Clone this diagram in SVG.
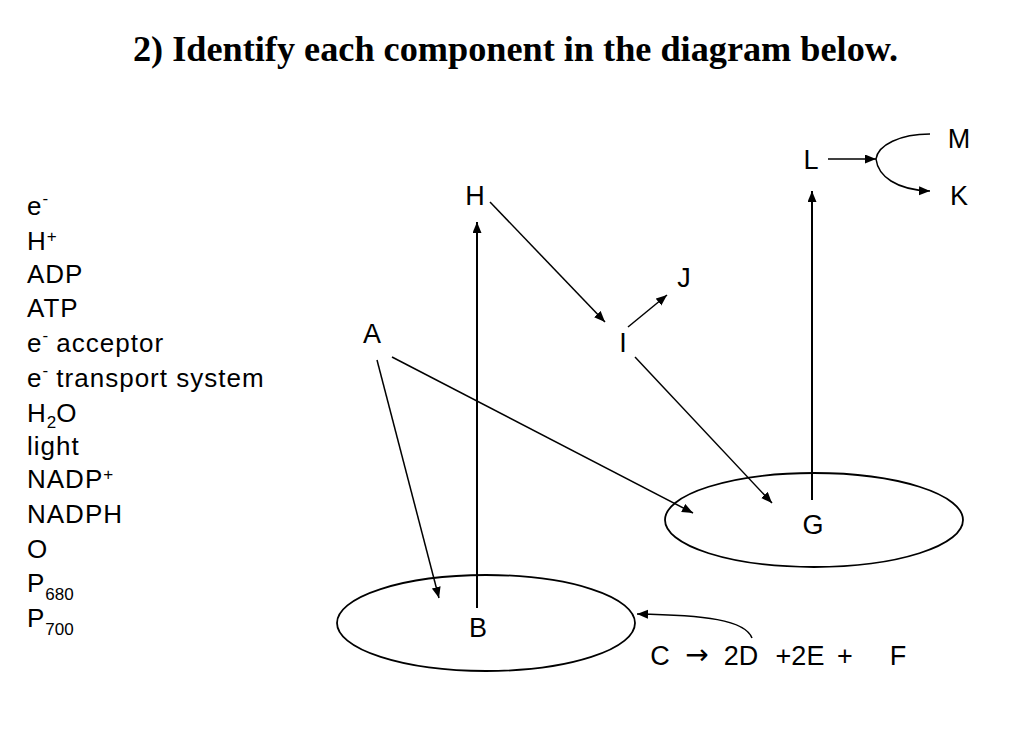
<svg xmlns="http://www.w3.org/2000/svg" width="1024" height="733" viewBox="0 0 1024 733">
<defs>
<marker id="ah" markerWidth="12" markerHeight="10" refX="11" refY="4.5" orient="auto" markerUnits="userSpaceOnUse">
<path d="M0,0 L11,4.5 L0,9 Z" fill="#000"/>
</marker>
<style>
.t{font-family:"Liberation Sans",Arial,sans-serif;font-size:26px;fill:#000;letter-spacing:1px}
.lb{font-family:"Liberation Sans",Arial,sans-serif;font-size:27px;fill:#000}
.ar{font-family:"DejaVu Sans",sans-serif;font-size:28px;fill:#000}
.sub{font-size:17px;letter-spacing:0}
.ttl{font-family:"Liberation Serif","Times New Roman",serif;font-weight:bold;font-size:36px;fill:#000}
.ln{fill:none;stroke:#000;stroke-width:1.5}
.v{fill:none;stroke:#000;stroke-width:2}
.el{fill:none;stroke:#000;stroke-width:1.8}
</style>
</defs>
<rect width="1024" height="733" fill="#fff"/>
<text class="ttl" x="133" y="61" textLength="765" lengthAdjust="spacingAndGlyphs">2) Identify each component in the diagram below.</text>

<g id="list">
<text class="t" x="27" y="215">e<tspan class="sub" dy="-11">-</tspan></text>
<text class="t" x="27" y="250">H<tspan class="sub" dy="-8">+</tspan></text>
<text class="t" x="27" y="283">ADP</text>
<text class="t" x="27" y="317">ATP</text>
<text class="t" x="27" y="352">e<tspan class="sub" dy="-11">-</tspan><tspan dy="11"> acceptor</tspan></text>
<text class="t" x="27" y="387">e<tspan class="sub" dy="-11">-</tspan><tspan dy="11"> transport system</tspan></text>
<text class="t" x="27" y="422">H<tspan class="sub" dy="6">2</tspan><tspan dy="-6">O</tspan></text>
<text class="t" x="27" y="455">light</text>
<text class="t" x="27" y="488">NADP<tspan class="sub" dy="-8">+</tspan></text>
<text class="t" x="27" y="523">NADPH</text>
<text class="t" x="27" y="558">O</text>
<text class="t" x="27" y="592">P<tspan class="sub" dy="8">680</tspan></text>
<text class="t" x="27" y="627">P<tspan class="sub" dy="8">700</tspan></text>
</g>

<g id="ellipseB"><ellipse class="el" cx="486" cy="623" rx="149" ry="48"/></g>
<g id="ellipseG"><ellipse class="el" cx="814" cy="520" rx="149" ry="47"/></g>

<g id="nodeA"><text class="lb" x="372" y="343" text-anchor="middle">A</text></g>
<g id="nodeB"><text class="lb" x="478" y="637" text-anchor="middle">B</text></g>
<g id="nodeG"><text class="lb" x="813" y="534" text-anchor="middle">G</text></g>
<g id="nodeH"><text class="lb" x="475" y="205" text-anchor="middle">H</text></g>
<g id="nodeI"><text class="lb" x="623" y="352" text-anchor="middle">I</text></g>
<g id="nodeJ"><text class="lb" x="684" y="287" text-anchor="middle">J</text></g>
<g id="nodeL"><text class="lb" x="811" y="169" text-anchor="middle">L</text></g>
<g id="nodeM"><text class="lb" x="959" y="148" text-anchor="middle">M</text></g>
<g id="nodeK"><text class="lb" x="959" y="205" text-anchor="middle">K</text></g>
<g id="equation">
<text class="lb" x="660" y="665" text-anchor="middle">C</text>
<text class="ar" x="697" y="664" text-anchor="middle">→</text>
<text class="lb" x="741" y="665" text-anchor="middle">2D</text>
<text class="lb" x="800" y="665" text-anchor="middle">+2E</text>
<text class="lb" x="845" y="665" text-anchor="middle">+</text>
<text class="lb" x="898" y="665" text-anchor="middle">F</text>
</g>

<g id="connectors">
<line class="v" x1="477" y1="608" x2="477" y2="222" marker-end="url(#ah)"/>
<line class="v" x1="812" y1="500" x2="812" y2="191" marker-end="url(#ah)"/>
<line class="ln" x1="490" y1="202" x2="605" y2="322" marker-end="url(#ah)"/>
<line class="ln" x1="628" y1="327" x2="667" y2="295" marker-end="url(#ah)"/>
<line class="ln" x1="635" y1="357" x2="772" y2="503" marker-end="url(#ah)"/>
<line class="ln" x1="392" y1="357" x2="693" y2="513" marker-end="url(#ah)"/>
<line class="ln" x1="377" y1="360" x2="439" y2="598" marker-end="url(#ah)"/>
<line class="ln" x1="828" y1="159" x2="876" y2="159" marker-end="url(#ah)"/>
<path class="ln" d="M876,159 C878,145 900,134 930,134"/>
<path class="ln" d="M876,159 C878,176 896,190 930,191" marker-end="url(#ah)"/>
<path class="ln" d="M752,638 C745,620 705,615 637,614" marker-end="url(#ah)"/>
</g>
</svg>
